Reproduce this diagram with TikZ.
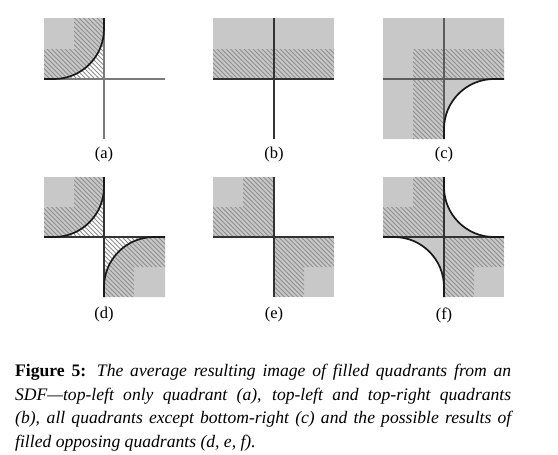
\documentclass[tikz,border=0pt]{standalone}
\usepackage{fontspec}
\setmainfont{Liberation Serif}
\definecolor{fillgray}{HTML}{C8C8C8}
\definecolor{hatchgray}{HTML}{8E8E8E}
\definecolor{axisgray}{HTML}{7A7A7A}
\definecolor{darkline}{HTML}{333333}
\tikzset{
  fillq/.style={fill=fillgray, draw=none},
  hatchline/.style={draw=hatchgray, line width=0.75pt},
  axisline/.style={draw=axisgray, line width=1.1pt},
  darkaxis/.style={draw=darkline, line width=1.2pt},
  contour/.style={draw=black!90, line width=1.7pt},
  lbl/.style={font=\fontsize{16.5}{19}\selectfont, inner sep=0pt},
  captionbox/.style={font=\fontsize{17.6}{23.5}\selectfont, text width=496pt, align=justify, inner sep=0pt}
}
\newcommand\hatchlines{\foreach \c in {-135,-130.5,...,135} \draw[hatchline] (\c-70,-70) -- (\c+70,70);}
\begin{document}
\begin{tikzpicture}[x=1pt,y=-1pt]
\useasboundingbox (0,0) rectangle (558,455);
% ---------- (a)
\begin{scope}[shift={(104,79)}]
  \fill[fillq] (-60,-61) -- (0,-61) -- (0,-50) .. controls (0,-22.4) and (-22.4,0) .. (-50,0) -- (-60,0) -- cycle;
  \begin{scope}
    \clip (-30,-61) -- (0,-61) -- (0,0) -- (-60,0) -- (-60,-30) -- (-30,-30) -- cycle;
    \hatchlines
  \end{scope}
  \draw[axisline] (-60,0) -- (61,0);
  \draw[axisline] (0,-61) -- (0,60);
  \draw[contour] (-60,0) -- (-50,0) .. controls (-22.4,0) and (0,-22.4) .. (0,-50) -- (0,-61);
\end{scope}
% ---------- (b)
\begin{scope}[shift={(274,79)}]
  \fill[fillq] (-61,-61) rectangle (60,0);
  \begin{scope}
    \clip (-61,-30) rectangle (60,0);
    \hatchlines
  \end{scope}
  \draw[darkaxis] (0,-61) -- (0,60);
  \draw[darkaxis] (-61,0) -- (60,0);
\end{scope}
% ---------- (c)
\begin{scope}[shift={(444,79)}]
  \fill[fillq] (-61,-61) -- (60,-61) -- (60,0) -- (50,0) .. controls (22.4,0) and (0,22.4) .. (0,50) -- (0,60) -- (-61,60) -- cycle;
  \begin{scope}
    \clip (-31,-30) -- (60,-30) -- (60,0) -- (0,0) -- (0,60) -- (-31,60) -- cycle;
    \hatchlines
  \end{scope}
  \draw[axisline, draw=darkline!80] (-61,0) -- (60,0);
  \draw[axisline, draw=darkline!80] (0,-61) -- (0,60);
  \draw[contour] (60,0) -- (50,0) .. controls (22.4,0) and (0,22.4) .. (0,50) -- (0,60);
\end{scope}
% ---------- (d)
\begin{scope}[shift={(104,237)}]
  \fill[fillq] (-60,-60) -- (0,-60) -- (0,-50) .. controls (0,-22.4) and (-22.4,0) .. (-50,0) -- (-60,0) -- cycle;
  \fill[fillq] (61,60) -- (0,60) -- (0,50) .. controls (0,22.4) and (22.4,0) .. (50,0) -- (61,0) -- cycle;
  \begin{scope}
    \clip (-30,-60) -- (0,-60) -- (0,0) -- (-60,0) -- (-60,-30) -- (-30,-30) -- cycle
          (30,60) -- (0,60) -- (0,0) -- (61,0) -- (61,30) -- (30,30) -- cycle;
    \hatchlines
  \end{scope}
  \draw[darkaxis] (-60,0) -- (61,0);
  \draw[darkaxis] (0,-60) -- (0,60);
  \draw[contour] (-60,0) -- (-50,0) .. controls (-22.4,0) and (0,-22.4) .. (0,-50) -- (0,-60);
  \draw[contour] (61,0) -- (50,0) .. controls (22.4,0) and (0,22.4) .. (0,50) -- (0,60);
\end{scope}
% ---------- (e)
\begin{scope}[shift={(274,237)}]
  \fill[fillq] (-61,-60) rectangle (0,0);
  \fill[fillq] (0,0) rectangle (60,60);
  \begin{scope}
    \clip (-31,-60) -- (0,-60) -- (0,0) -- (-61,0) -- (-61,-30) -- (-31,-30) -- cycle
          (30,60) -- (0,60) -- (0,0) -- (60,0) -- (60,30) -- (30,30) -- cycle;
    \hatchlines
  \end{scope}
  \draw[darkaxis] (-61,0) -- (60,0);
  \draw[darkaxis] (0,-60) -- (0,60);
\end{scope}
% ---------- (f)
\begin{scope}[shift={(444,237)}]
  \fill[fillq] (-61,-60) rectangle (0,0);
  \fill[fillq] (0,0) rectangle (60,60);
  \fill[fillq] (0,0) -- (0,-50) .. controls (0,-22.4) and (22.4,0) .. (50,0) -- cycle;
  \fill[fillq] (0,0) -- (-50,0) .. controls (-22.4,0) and (0,22.4) .. (0,50) -- cycle;
  \begin{scope}
    \clip (-31,-60) -- (0,-60) -- (0,0) -- (-61,0) -- (-61,-30) -- (-31,-30) -- cycle
          (30,60) -- (0,60) -- (0,0) -- (60,0) -- (60,30) -- (30,30) -- cycle;
    \hatchlines
  \end{scope}
  \draw[darkaxis] (-61,0) -- (60,0);
  \draw[darkaxis] (0,-60) -- (0,60);
  \draw[contour] (0,-60) -- (0,-50) .. controls (0,-22.4) and (22.4,0) .. (50,0) -- (60,0);
  \draw[contour] (-61,0) -- (-50,0) .. controls (-22.4,0) and (0,22.4) .. (0,50) -- (0,60);
\end{scope}
% ---------- labels
\node[lbl] (la) at (104,155) {(a)};
\node[lbl] (lb) at (274,155) {(b)};
\node[lbl] (lc) at (444,155) {(c)};
\node[lbl] (ld) at (104,315) {(d)};
\node[lbl] (le) at (274,315) {(e)};
\node[lbl] (lf) at (444,315) {(f)};
% ---------- caption
\node[captionbox, anchor=north west] (cap) at (15,364)
{\textbf{Figure 5:} \textit{The average resulting image of filled quadrants from an\linebreak
SDF—top-left only quadrant (a), top-left and top-right quadrants\linebreak
(b), all quadrants except bottom-right (c) and the possible results of\linebreak
filled opposing quadrants (d, e, f).}};
\end{tikzpicture}
\end{document}
